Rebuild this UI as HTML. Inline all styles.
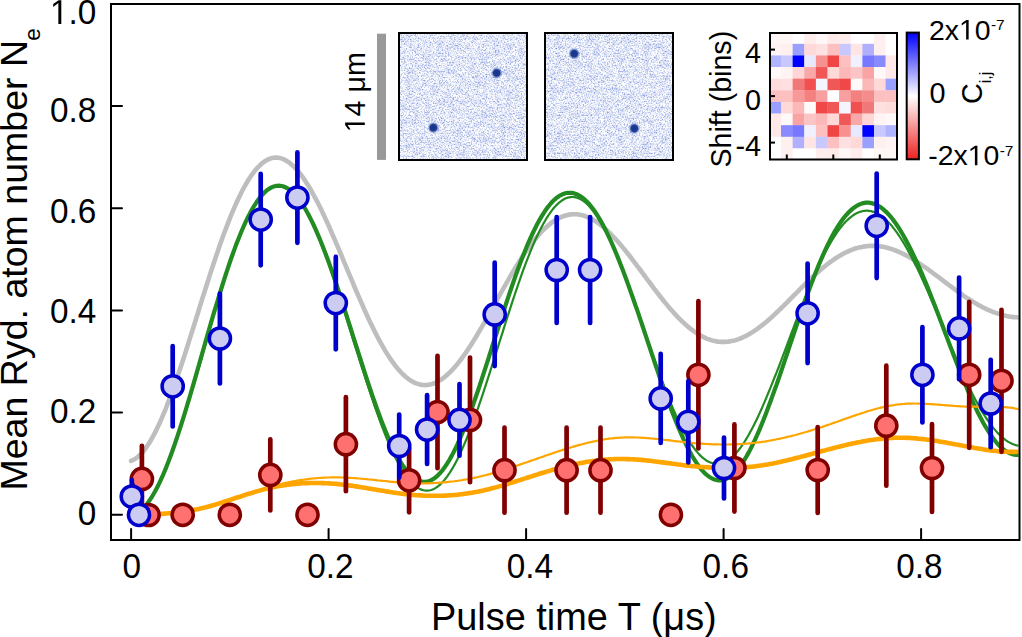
<!DOCTYPE html>
<html><head><meta charset="utf-8"><style>html,body{margin:0;padding:0;background:#fff;overflow:hidden}svg{display:block}</style></head>
<body>
<svg width="1022" height="637" viewBox="0 0 1022 637">
<defs>
<filter id="nz" x="0" y="0" width="100%" height="100%" color-interpolation-filters="sRGB">
<feTurbulence type="fractalNoise" baseFrequency="0.66" numOctaves="2" seed="7" result="t"/>
<feColorMatrix in="t" type="matrix" values="0 0 0 0 0.42  0 0 0 0 0.52  0 0 0 0 0.84  -1.8 0 0 0 1.03" result="c"/>
<feGaussianBlur in="c" stdDeviation="0.6" result="b"/><feTurbulence type="fractalNoise" baseFrequency="0.16" numOctaves="2" seed="11" result="t2"/><feColorMatrix in="t2" type="matrix" values="0 0 0 0 0.42  0 0 0 0 0.52  0 0 0 0 0.84  0.45 0 0 0 -0.17" result="c2"/><feComposite in="b" in2="c2" operator="arithmetic" k2="1" k3="1" result="s"/><feComposite in="s" in2="SourceGraphic" operator="in"/>
</filter>
<clipPath id="pc"><rect x="112" y="5" width="906.5" height="534"/></clipPath>
<radialGradient id="dot"><stop offset="0" stop-color="#173388"/><stop offset="0.55" stop-color="#1d3a92"/><stop offset="0.72" stop-color="#3c5aac" stop-opacity="0.6"/><stop offset="1" stop-color="#6080c0" stop-opacity="0"/></radialGradient>
<linearGradient id="cb" x1="0" y1="0" x2="0" y2="1"><stop offset="0" stop-color="#0000ff"/><stop offset="0.5" stop-color="#ffffff"/><stop offset="1" stop-color="#ee2222"/></linearGradient>
</defs>
<rect width="1022" height="637" fill="#fff"/>
<g clip-path="url(#pc)"><path d="M131.1,460.8 L132.6,460.2 L134.1,459.5 L135.6,458.6 L137.0,457.5 L138.5,456.3 L140.0,454.9 L141.5,453.4 L143.0,451.7 L144.5,449.8 L146.0,447.8 L147.4,445.7 L148.9,443.4 L150.4,441.0 L151.9,438.4 L153.4,435.7 L154.9,432.9 L156.4,429.9 L157.8,426.9 L159.3,423.7 L160.8,420.4 L162.3,416.9 L163.8,413.4 L165.3,409.8 L166.8,406.0 L168.2,402.2 L169.7,398.3 L171.2,394.3 L172.7,390.2 L174.2,386.0 L175.7,381.8 L177.2,377.5 L178.6,373.1 L180.1,368.7 L181.6,364.2 L183.1,359.7 L184.6,355.1 L186.1,350.5 L187.6,345.8 L189.0,341.2 L190.5,336.4 L192.0,331.7 L193.5,327.0 L195.0,322.2 L196.5,317.5 L198.0,312.7 L199.4,307.9 L200.9,303.2 L202.4,298.4 L203.9,293.7 L205.4,289.0 L206.9,284.3 L208.4,279.7 L209.8,275.1 L211.3,270.5 L212.8,266.0 L214.3,261.5 L215.8,257.0 L217.3,252.7 L218.8,248.3 L220.2,244.1 L221.7,239.9 L223.2,235.8 L224.7,231.7 L226.2,227.8 L227.7,223.9 L229.2,220.1 L230.6,216.4 L232.1,212.8 L233.6,209.3 L235.1,205.8 L236.6,202.5 L238.1,199.3 L239.6,196.2 L241.0,193.2 L242.5,190.3 L244.0,187.5 L245.5,184.8 L247.0,182.3 L248.5,179.8 L250.0,177.5 L251.4,175.3 L252.9,173.3 L254.4,171.3 L255.9,169.5 L257.4,167.8 L258.9,166.3 L260.4,164.8 L261.8,163.5 L263.3,162.4 L264.8,161.3 L266.3,160.4 L267.8,159.6 L269.3,159.0 L270.8,158.4 L272.2,158.0 L273.7,157.8 L275.2,157.6 L276.7,157.6 L278.2,157.8 L279.7,158.0 L281.1,158.4 L282.6,158.9 L284.1,159.5 L285.6,160.3 L287.1,161.2 L288.6,162.1 L290.1,163.3 L291.5,164.5 L293.0,165.8 L294.5,167.3 L296.0,168.8 L297.5,170.5 L299.0,172.3 L300.5,174.2 L301.9,176.1 L303.4,178.2 L304.9,180.4 L306.4,182.7 L307.9,185.0 L309.4,187.5 L310.9,190.0 L312.3,192.6 L313.8,195.3 L315.3,198.1 L316.8,200.9 L318.3,203.8 L319.8,206.8 L321.3,209.8 L322.7,212.9 L324.2,216.1 L325.7,219.3 L327.2,222.5 L328.7,225.8 L330.2,229.2 L331.7,232.6 L333.1,236.0 L334.6,239.4 L336.1,242.9 L337.6,246.4 L339.1,249.9 L340.6,253.5 L342.1,257.0 L343.5,260.6 L345.0,264.1 L346.5,267.7 L348.0,271.3 L349.5,274.8 L351.0,278.4 L352.5,281.9 L353.9,285.5 L355.4,289.0 L356.9,292.5 L358.4,295.9 L359.9,299.4 L361.4,302.8 L362.9,306.1 L364.3,309.5 L365.8,312.8 L367.3,316.0 L368.8,319.2 L370.3,322.4 L371.8,325.5 L373.3,328.5 L374.7,331.5 L376.2,334.4 L377.7,337.3 L379.2,340.1 L380.7,342.8 L382.2,345.5 L383.7,348.1 L385.1,350.6 L386.6,353.0 L388.1,355.4 L389.6,357.7 L391.1,359.9 L392.6,362.0 L394.1,364.0 L395.5,366.0 L397.0,367.8 L398.5,369.6 L400.0,371.2 L401.5,372.8 L403.0,374.3 L404.5,375.7 L405.9,377.0 L407.4,378.2 L408.9,379.3 L410.4,380.3 L411.9,381.2 L413.4,382.1 L414.9,382.8 L416.3,383.4 L417.8,383.9 L419.3,384.3 L420.8,384.7 L422.3,384.9 L423.8,385.0 L425.3,385.1 L426.7,385.0 L428.2,384.8 L429.7,384.6 L431.2,384.2 L432.7,383.8 L434.2,383.3 L435.7,382.6 L437.1,381.9 L438.6,381.1 L440.1,380.2 L441.6,379.3 L443.1,378.2 L444.6,377.1 L446.1,375.8 L447.5,374.5 L449.0,373.1 L450.5,371.7 L452.0,370.1 L453.5,368.5 L455.0,366.9 L456.5,365.1 L457.9,363.3 L459.4,361.4 L460.9,359.5 L462.4,357.5 L463.9,355.4 L465.4,353.3 L466.9,351.1 L468.3,348.9 L469.8,346.7 L471.3,344.4 L472.8,342.0 L474.3,339.6 L475.8,337.2 L477.3,334.7 L478.7,332.2 L480.2,329.7 L481.7,327.1 L483.2,324.6 L484.7,322.0 L486.2,319.3 L487.7,316.7 L489.1,314.1 L490.6,311.4 L492.1,308.7 L493.6,306.1 L495.1,303.4 L496.6,300.7 L498.1,298.0 L499.5,295.4 L501.0,292.7 L502.5,290.0 L504.0,287.4 L505.5,284.8 L507.0,282.2 L508.5,279.6 L509.9,277.0 L511.4,274.5 L512.9,272.0 L514.4,269.5 L515.9,267.0 L517.4,264.6 L518.9,262.2 L520.3,259.9 L521.8,257.6 L523.3,255.3 L524.8,253.1 L526.3,250.9 L527.8,248.8 L529.3,246.7 L530.7,244.7 L532.2,242.8 L533.7,240.8 L535.2,239.0 L536.7,237.2 L538.2,235.5 L539.7,233.8 L541.1,232.2 L542.6,230.6 L544.1,229.1 L545.6,227.7 L547.1,226.4 L548.6,225.1 L550.1,223.9 L551.5,222.7 L553.0,221.7 L554.5,220.7 L556.0,219.7 L557.5,218.9 L559.0,218.1 L560.5,217.4 L561.9,216.7 L563.4,216.2 L564.9,215.7 L566.4,215.2 L567.9,214.9 L569.4,214.6 L570.9,214.4 L572.3,214.3 L573.8,214.2 L575.3,214.2 L576.8,214.3 L578.3,214.5 L579.8,214.7 L581.2,215.0 L582.7,215.4 L584.2,215.8 L585.7,216.3 L587.2,216.9 L588.7,217.5 L590.2,218.2 L591.6,219.0 L593.1,219.8 L594.6,220.7 L596.1,221.7 L597.6,222.7 L599.1,223.8 L600.6,224.9 L602.0,226.1 L603.5,227.3 L605.0,228.6 L606.5,229.9 L608.0,231.3 L609.5,232.8 L611.0,234.2 L612.4,235.8 L613.9,237.3 L615.4,238.9 L616.9,240.6 L618.4,242.3 L619.9,244.0 L621.4,245.7 L622.8,247.5 L624.3,249.3 L625.8,251.1 L627.3,253.0 L628.8,254.9 L630.3,256.8 L631.8,258.7 L633.2,260.7 L634.7,262.6 L636.2,264.6 L637.7,266.6 L639.2,268.5 L640.7,270.5 L642.2,272.5 L643.6,274.5 L645.1,276.5 L646.6,278.6 L648.1,280.6 L649.6,282.5 L651.1,284.5 L652.6,286.5 L654.0,288.5 L655.5,290.4 L657.0,292.4 L658.5,294.3 L660.0,296.2 L661.5,298.1 L663.0,300.0 L664.4,301.8 L665.9,303.6 L667.4,305.4 L668.9,307.2 L670.4,308.9 L671.9,310.6 L673.4,312.3 L674.8,313.9 L676.3,315.5 L677.8,317.1 L679.3,318.6 L680.8,320.1 L682.3,321.5 L683.8,322.9 L685.2,324.3 L686.7,325.6 L688.2,326.9 L689.7,328.1 L691.2,329.3 L692.7,330.4 L694.2,331.5 L695.6,332.5 L697.1,333.5 L698.6,334.4 L700.1,335.3 L701.6,336.1 L703.1,336.9 L704.6,337.6 L706.0,338.3 L707.5,338.9 L709.0,339.4 L710.5,339.9 L712.0,340.4 L713.5,340.7 L715.0,341.1 L716.4,341.4 L717.9,341.6 L719.4,341.7 L720.9,341.9 L722.4,341.9 L723.9,341.9 L725.4,341.9 L726.8,341.8 L728.3,341.6 L729.8,341.4 L731.3,341.1 L732.8,340.8 L734.3,340.5 L735.8,340.1 L737.2,339.6 L738.7,339.1 L740.2,338.5 L741.7,337.9 L743.2,337.2 L744.7,336.5 L746.2,335.8 L747.6,335.0 L749.1,334.2 L750.6,333.3 L752.1,332.4 L753.6,331.4 L755.1,330.4 L756.6,329.4 L758.0,328.3 L759.5,327.2 L761.0,326.1 L762.5,324.9 L764.0,323.8 L765.5,322.5 L767.0,321.3 L768.4,320.0 L769.9,318.7 L771.4,317.4 L772.9,316.0 L774.4,314.6 L775.9,313.2 L777.4,311.8 L778.8,310.4 L780.3,309.0 L781.8,307.5 L783.3,306.1 L784.8,304.6 L786.3,303.1 L787.8,301.6 L789.2,300.1 L790.7,298.6 L792.2,297.1 L793.7,295.6 L795.2,294.1 L796.7,292.6 L798.2,291.1 L799.6,289.6 L801.1,288.1 L802.6,286.6 L804.1,285.1 L805.6,283.7 L807.1,282.2 L808.6,280.8 L810.0,279.4 L811.5,278.0 L813.0,276.6 L814.5,275.2 L816.0,273.8 L817.5,272.5 L819.0,271.2 L820.4,269.9 L821.9,268.6 L823.4,267.4 L824.9,266.2 L826.4,265.0 L827.9,263.8 L829.4,262.7 L830.8,261.6 L832.3,260.6 L833.8,259.5 L835.3,258.5 L836.8,257.5 L838.3,256.6 L839.8,255.7 L841.2,254.9 L842.7,254.0 L844.2,253.2 L845.7,252.5 L847.2,251.8 L848.7,251.1 L850.2,250.5 L851.6,249.9 L853.1,249.3 L854.6,248.8 L856.1,248.3 L857.6,247.9 L859.1,247.5 L860.6,247.2 L862.0,246.9 L863.5,246.6 L865.0,246.4 L866.5,246.2 L868.0,246.0 L869.5,245.9 L871.0,245.9 L872.4,245.8 L873.9,245.9 L875.4,245.9 L876.9,246.0 L878.4,246.2 L879.9,246.3 L881.3,246.6 L882.8,246.8 L884.3,247.1 L885.8,247.4 L887.3,247.8 L888.8,248.2 L890.3,248.6 L891.7,249.1 L893.2,249.6 L894.7,250.2 L896.2,250.7 L897.7,251.4 L899.2,252.0 L900.7,252.7 L902.1,253.4 L903.6,254.1 L905.1,254.9 L906.6,255.6 L908.1,256.5 L909.6,257.3 L911.1,258.2 L912.5,259.0 L914.0,259.9 L915.5,260.9 L917.0,261.8 L918.5,262.8 L920.0,263.8 L921.5,264.8 L922.9,265.8 L924.4,266.8 L925.9,267.9 L927.4,268.9 L928.9,270.0 L930.4,271.1 L931.9,272.2 L933.3,273.3 L934.8,274.4 L936.3,275.5 L937.8,276.6 L939.3,277.7 L940.8,278.9 L942.3,280.0 L943.7,281.1 L945.2,282.2 L946.7,283.4 L948.2,284.5 L949.7,285.6 L951.2,286.7 L952.7,287.8 L954.1,288.9 L955.6,290.0 L957.1,291.1 L958.6,292.1 L960.1,293.2 L961.6,294.2 L963.1,295.3 L964.5,296.3 L966.0,297.3 L967.5,298.3 L969.0,299.2 L970.5,300.2 L972.0,301.1 L973.5,302.0 L974.9,302.9 L976.4,303.8 L977.9,304.7 L979.4,305.5 L980.9,306.3 L982.4,307.1 L983.9,307.8 L985.3,308.6 L986.8,309.3 L988.3,309.9 L989.8,310.6 L991.3,311.2 L992.8,311.8 L994.3,312.4 L995.7,312.9 L997.2,313.4 L998.7,313.9 L1000.2,314.4 L1001.7,314.8 L1003.2,315.2 L1004.7,315.5 L1006.1,315.9 L1007.6,316.2 L1009.1,316.5 L1010.6,316.7 L1012.1,316.9 L1013.6,317.1 L1015.1,317.2 L1016.5,317.3 L1018.0,317.4 L1019.5,317.5 L1021.0,317.5" stroke="#bebebe" stroke-width="4.6" fill="none" stroke-linecap="round" stroke-linejoin="round"/><path d="M131.8,514.7 L133.1,514.3 L134.4,513.8 L135.7,513.2 L137.0,512.5 L138.3,511.6 L139.6,510.7 L140.9,509.6 L142.2,508.4 L143.5,507.1 L144.8,505.7 L146.2,504.2 L147.5,502.6 L148.8,500.8 L150.1,499.0 L151.4,497.0 L152.7,495.0 L154.0,492.8 L155.3,490.5 L156.6,488.1 L157.9,485.6 L159.2,483.1 L160.5,480.4 L161.8,477.6 L163.1,474.7 L164.4,471.7 L165.7,468.7 L167.0,465.5 L168.3,462.3 L169.6,459.0 L170.9,455.5 L172.2,452.1 L173.5,448.5 L174.8,444.9 L176.1,441.1 L177.4,437.4 L178.7,433.5 L180.0,429.6 L181.3,425.6 L182.6,421.6 L183.9,417.5 L185.2,413.3 L186.5,409.1 L187.8,404.9 L189.1,400.6 L190.4,396.3 L191.7,391.9 L193.0,387.5 L194.3,383.1 L195.6,378.6 L196.9,374.2 L198.2,369.7 L199.5,365.2 L200.8,360.6 L202.1,356.1 L203.4,351.5 L204.7,347.0 L206.0,342.4 L207.3,337.9 L208.6,333.3 L209.9,328.8 L211.2,324.3 L212.5,319.8 L213.8,315.3 L215.1,310.9 L216.5,306.5 L217.8,302.1 L219.1,297.7 L220.4,293.4 L221.7,289.2 L223.0,285.0 L224.3,280.8 L225.6,276.7 L226.9,272.7 L228.2,268.7 L229.5,264.8 L230.8,260.9 L232.1,257.1 L233.4,253.4 L234.7,249.8 L236.0,246.2 L237.3,242.8 L238.6,239.4 L239.9,236.1 L241.2,232.8 L242.5,229.7 L243.8,226.7 L245.1,223.7 L246.4,220.9 L247.7,218.1 L249.0,215.5 L250.3,213.0 L251.6,210.5 L252.9,208.2 L254.2,206.0 L255.5,203.8 L256.8,201.8 L258.1,199.9 L259.4,198.2 L260.7,196.5 L262.0,194.9 L263.3,193.5 L264.6,192.2 L265.9,191.0 L267.2,189.9 L268.5,188.9 L269.8,188.0 L271.1,187.3 L272.4,186.7 L273.7,186.2 L275.0,185.8 L276.3,185.6 L277.6,185.4 L278.9,185.4 L280.2,185.5 L281.5,185.7 L282.8,186.1 L284.1,186.5 L285.4,187.1 L286.8,187.8 L288.1,188.6 L289.4,189.5 L290.7,190.5 L292.0,191.7 L293.3,192.9 L294.6,194.3 L295.9,195.8 L297.2,197.3 L298.5,199.0 L299.8,200.8 L301.1,202.7 L302.4,204.7 L303.7,206.8 L305.0,209.0 L306.3,211.3 L307.6,213.7 L308.9,216.2 L310.2,218.8 L311.5,221.5 L312.8,224.2 L314.1,227.1 L315.4,230.0 L316.7,233.0 L318.0,236.1 L319.3,239.2 L320.6,242.5 L321.9,245.8 L323.2,249.1 L324.5,252.6 L325.8,256.1 L327.1,259.6 L328.4,263.3 L329.7,266.9 L331.0,270.7 L332.3,274.4 L333.6,278.3 L334.9,282.1 L336.2,286.0 L337.5,290.0 L338.8,294.0 L340.1,298.0 L341.4,302.0 L342.7,306.1 L344.0,310.2 L345.3,314.3 L346.6,318.5 L347.9,322.6 L349.2,326.8 L350.5,330.9 L351.8,335.1 L353.1,339.3 L354.4,343.5 L355.7,347.7 L357.1,351.8 L358.4,356.0 L359.7,360.1 L361.0,364.3 L362.3,368.4 L363.6,372.5 L364.9,376.5 L366.2,380.6 L367.5,384.6 L368.8,388.5 L370.1,392.5 L371.4,396.4 L372.7,400.2 L374.0,404.0 L375.3,407.8 L376.6,411.5 L377.9,415.2 L379.2,418.7 L380.5,422.3 L381.8,425.8 L383.1,429.2 L384.4,432.5 L385.7,435.8 L387.0,439.0 L388.3,442.1 L389.6,445.1 L390.9,448.1 L392.2,451.0 L393.5,453.7 L394.8,456.5 L396.1,459.1 L397.4,461.6 L398.7,464.0 L400.0,466.4 L401.3,468.6 L402.6,470.7 L403.9,472.8 L405.2,474.7 L406.5,476.5 L407.8,478.3 L409.1,479.9 L410.4,481.4 L411.7,482.8 L413.0,484.1 L414.3,485.2 L415.6,486.3 L416.9,487.2 L418.2,488.1 L419.5,488.8 L420.8,489.4 L422.1,489.9 L423.4,490.2 L424.7,490.5 L426.1,490.6 L427.4,490.6 L428.7,490.5 L430.0,490.3 L431.3,490.0 L432.6,489.5 L433.9,488.9 L435.2,488.2 L436.5,487.4 L437.8,486.5 L439.1,485.4 L440.4,484.3 L441.7,483.0 L443.0,481.6 L444.3,480.1 L445.6,478.5 L446.9,476.8 L448.2,475.0 L449.5,473.1 L450.8,471.1 L452.1,468.9 L453.4,466.7 L454.7,464.4 L456.0,461.9 L457.3,459.4 L458.6,456.8 L459.9,454.1 L461.2,451.3 L462.5,448.4 L463.8,445.4 L465.1,442.4 L466.4,439.3 L467.7,436.0 L469.0,432.8 L470.3,429.4 L471.6,426.0 L472.9,422.5 L474.2,419.0 L475.5,415.4 L476.8,411.7 L478.1,408.0 L479.4,404.2 L480.7,400.4 L482.0,396.5 L483.3,392.6 L484.6,388.7 L485.9,384.7 L487.2,380.7 L488.5,376.6 L489.8,372.6 L491.1,368.5 L492.4,364.4 L493.7,360.3 L495.0,356.1 L496.4,352.0 L497.7,347.8 L499.0,343.7 L500.3,339.5 L501.6,335.4 L502.9,331.3 L504.2,327.1 L505.5,323.0 L506.8,318.9 L508.1,314.9 L509.4,310.8 L510.7,306.8 L512.0,302.8 L513.3,298.9 L514.6,295.0 L515.9,291.1 L517.2,287.3 L518.5,283.5 L519.8,279.8 L521.1,276.1 L522.4,272.4 L523.7,268.9 L525.0,265.4 L526.3,261.9 L527.6,258.6 L528.9,255.3 L530.2,252.0 L531.5,248.9 L532.8,245.8 L534.1,242.8 L535.4,239.8 L536.7,237.0 L538.0,234.2 L539.3,231.6 L540.6,229.0 L541.9,226.5 L543.2,224.1 L544.5,221.8 L545.8,219.5 L547.1,217.4 L548.4,215.4 L549.7,213.5 L551.0,211.7 L552.3,209.9 L553.6,208.3 L554.9,206.8 L556.2,205.4 L557.5,204.1 L558.8,202.9 L560.1,201.8 L561.4,200.9 L562.7,200.0 L564.0,199.2 L565.3,198.6 L566.7,198.0 L568.0,197.6 L569.3,197.3 L570.6,197.1 L571.9,197.0 L573.2,197.0 L574.5,197.1 L575.8,197.4 L577.1,197.7 L578.4,198.2 L579.7,198.8 L581.0,199.4 L582.3,200.2 L583.6,201.1 L584.9,202.1 L586.2,203.2 L587.5,204.4 L588.8,205.7 L590.1,207.2 L591.4,208.7 L592.7,210.3 L594.0,212.0 L595.3,213.8 L596.6,215.7 L597.9,217.7 L599.2,219.8 L600.5,221.9 L601.8,224.2 L603.1,226.5 L604.4,228.9 L605.7,231.4 L607.0,234.0 L608.3,236.7 L609.6,239.4 L610.9,242.2 L612.2,245.1 L613.5,248.0 L614.8,251.0 L616.1,254.1 L617.4,257.2 L618.7,260.4 L620.0,263.7 L621.3,267.0 L622.6,270.3 L623.9,273.7 L625.2,277.1 L626.5,280.6 L627.8,284.1 L629.1,287.7 L630.4,291.3 L631.7,294.9 L633.0,298.5 L634.3,302.2 L635.6,305.9 L637.0,309.6 L638.3,313.3 L639.6,317.1 L640.9,320.8 L642.2,324.6 L643.5,328.4 L644.8,332.1 L646.1,335.9 L647.4,339.7 L648.7,343.4 L650.0,347.2 L651.3,350.9 L652.6,354.6 L653.9,358.3 L655.2,362.0 L656.5,365.7 L657.8,369.3 L659.1,372.9 L660.4,376.4 L661.7,380.0 L663.0,383.4 L664.3,386.9 L665.6,390.3 L666.9,393.6 L668.2,396.9 L669.5,400.2 L670.8,403.4 L672.1,406.5 L673.4,409.5 L674.7,412.5 L676.0,415.5 L677.3,418.3 L678.6,421.1 L679.9,423.8 L681.2,426.5 L682.5,429.0 L683.8,431.5 L685.1,433.9 L686.4,436.2 L687.7,438.5 L689.0,440.6 L690.3,442.7 L691.6,444.7 L692.9,446.5 L694.2,448.3 L695.5,450.0 L696.8,451.6 L698.1,453.1 L699.4,454.6 L700.7,455.9 L702.0,457.1 L703.3,458.2 L704.6,459.2 L705.9,460.2 L707.3,461.0 L708.6,461.7 L709.9,462.3 L711.2,462.8 L712.5,463.3 L713.8,463.6 L715.1,463.8 L716.4,463.9 L717.7,463.9 L719.0,463.8 L720.3,463.6 L721.6,463.3 L722.9,462.9 L724.2,462.3 L725.5,461.7 L726.8,461.0 L728.1,460.2 L729.4,459.3 L730.7,458.3 L732.0,457.2 L733.3,456.0 L734.6,454.7 L735.9,453.3 L737.2,451.8 L738.5,450.2 L739.8,448.5 L741.1,446.8 L742.4,444.9 L743.7,443.0 L745.0,441.0 L746.3,438.9 L747.6,436.7 L748.9,434.5 L750.2,432.1 L751.5,429.7 L752.8,427.2 L754.1,424.7 L755.4,422.1 L756.7,419.4 L758.0,416.7 L759.3,413.9 L760.6,411.0 L761.9,408.1 L763.2,405.1 L764.5,402.1 L765.8,399.0 L767.1,395.9 L768.4,392.8 L769.7,389.6 L771.0,386.4 L772.3,383.1 L773.6,379.8 L774.9,376.5 L776.3,373.2 L777.6,369.8 L778.9,366.5 L780.2,363.1 L781.5,359.6 L782.8,356.2 L784.1,352.8 L785.4,349.3 L786.7,345.9 L788.0,342.4 L789.3,338.9 L790.6,335.5 L791.9,332.0 L793.2,328.6 L794.5,325.1 L795.8,321.7 L797.1,318.3 L798.4,314.9 L799.7,311.5 L801.0,308.2 L802.3,304.8 L803.6,301.5 L804.9,298.2 L806.2,295.0 L807.5,291.8 L808.8,288.6 L810.1,285.5 L811.4,282.4 L812.7,279.3 L814.0,276.3 L815.3,273.3 L816.6,270.4 L817.9,267.6 L819.2,264.7 L820.5,262.0 L821.8,259.3 L823.1,256.6 L824.4,254.1 L825.7,251.5 L827.0,249.1 L828.3,246.7 L829.6,244.4 L830.9,242.1 L832.2,239.9 L833.5,237.8 L834.8,235.8 L836.1,233.8 L837.4,231.9 L838.7,230.1 L840.0,228.3 L841.3,226.7 L842.6,225.1 L843.9,223.6 L845.2,222.2 L846.6,220.8 L847.9,219.6 L849.2,218.4 L850.5,217.3 L851.8,216.3 L853.1,215.3 L854.4,214.5 L855.7,213.7 L857.0,213.1 L858.3,212.5 L859.6,212.0 L860.9,211.6 L862.2,211.2 L863.5,211.0 L864.8,210.8 L866.1,210.7 L867.4,210.7 L868.7,210.8 L870.0,211.0 L871.3,211.2 L872.6,211.6 L873.9,212.0 L875.2,212.5 L876.5,213.1 L877.8,213.7 L879.1,214.5 L880.4,215.3 L881.7,216.2 L883.0,217.2 L884.3,218.3 L885.6,219.5 L886.9,220.7 L888.2,222.0 L889.5,223.4 L890.8,224.8 L892.1,226.3 L893.4,228.0 L894.7,229.6 L896.0,231.4 L897.3,233.2 L898.6,235.1 L899.9,237.0 L901.2,239.0 L902.5,241.1 L903.8,243.2 L905.1,245.4 L906.4,247.7 L907.7,250.0 L909.0,252.4 L910.3,254.8 L911.6,257.3 L912.9,259.8 L914.2,262.4 L915.5,265.0 L916.9,267.6 L918.2,270.4 L919.5,273.1 L920.8,275.9 L922.1,278.7 L923.4,281.6 L924.7,284.5 L926.0,287.4 L927.3,290.3 L928.6,293.3 L929.9,296.3 L931.2,299.4 L932.5,302.4 L933.8,305.5 L935.1,308.5 L936.4,311.6 L937.7,314.7 L939.0,317.8 L940.3,321.0 L941.6,324.1 L942.9,327.2 L944.2,330.3 L945.5,333.5 L946.8,336.6 L948.1,339.7 L949.4,342.8 L950.7,345.9 L952.0,349.0 L953.3,352.0 L954.6,355.1 L955.9,358.1 L957.2,361.1 L958.5,364.1 L959.8,367.0 L961.1,370.0 L962.4,372.9 L963.7,375.7 L965.0,378.5 L966.3,381.3 L967.6,384.1 L968.9,386.8 L970.2,389.5 L971.5,392.1 L972.8,394.7 L974.1,397.2 L975.4,399.7 L976.7,402.1 L978.0,404.5 L979.3,406.8 L980.6,409.1 L981.9,411.3 L983.2,413.4 L984.5,415.5 L985.8,417.5 L987.2,419.5 L988.5,421.4 L989.8,423.2 L991.1,425.0 L992.4,426.7 L993.7,428.4 L995.0,429.9 L996.3,431.4 L997.6,432.9 L998.9,434.2 L1000.2,435.5 L1001.5,436.7 L1002.8,437.8 L1004.1,438.9 L1005.4,439.9 L1006.7,440.8 L1008.0,441.7 L1009.3,442.4 L1010.6,443.1 L1011.9,443.7 L1013.2,444.3 L1014.5,444.7 L1015.8,445.1 L1017.1,445.4 L1018.4,445.6 L1019.7,445.8 L1021.0,445.9" stroke="#228b22" stroke-width="2.2" fill="none" stroke-linecap="round" stroke-linejoin="round"/><path d="M131.8,514.6 L133.1,514.4 L134.4,514.0 L135.7,513.5 L137.0,512.8 L138.3,512.1 L139.6,511.2 L140.9,510.2 L142.2,509.0 L143.5,507.8 L144.8,506.4 L146.2,504.9 L147.5,503.3 L148.8,501.5 L150.1,499.6 L151.4,497.6 L152.7,495.5 L154.0,493.3 L155.3,491.0 L156.6,488.6 L157.9,486.0 L159.2,483.4 L160.5,480.6 L161.8,477.7 L163.1,474.8 L164.4,471.7 L165.7,468.6 L167.0,465.3 L168.3,462.0 L169.6,458.6 L170.9,455.1 L172.2,451.5 L173.5,447.8 L174.8,444.1 L176.1,440.3 L177.4,436.4 L178.7,432.4 L180.0,428.4 L181.3,424.3 L182.6,420.2 L183.9,416.0 L185.2,411.8 L186.5,407.5 L187.8,403.2 L189.1,398.9 L190.4,394.5 L191.7,390.0 L193.0,385.6 L194.3,381.1 L195.6,376.6 L196.9,372.1 L198.2,367.5 L199.5,363.0 L200.8,358.4 L202.1,353.9 L203.4,349.3 L204.7,344.7 L206.0,340.2 L207.3,335.6 L208.6,331.1 L209.9,326.6 L211.2,322.1 L212.5,317.6 L213.8,313.2 L215.1,308.8 L216.5,304.4 L217.8,300.1 L219.1,295.8 L220.4,291.5 L221.7,287.3 L223.0,283.2 L224.3,279.1 L225.6,275.0 L226.9,271.1 L228.2,267.1 L229.5,263.3 L230.8,259.5 L232.1,255.8 L233.4,252.2 L234.7,248.6 L236.0,245.1 L237.3,241.7 L238.6,238.4 L239.9,235.2 L241.2,232.0 L242.5,229.0 L243.8,226.0 L245.1,223.1 L246.4,220.4 L247.7,217.7 L249.0,215.1 L250.3,212.6 L251.6,210.3 L252.9,208.0 L254.2,205.8 L255.5,203.8 L256.8,201.8 L258.1,200.0 L259.4,198.2 L260.7,196.6 L262.0,195.1 L263.3,193.7 L264.6,192.4 L265.9,191.2 L267.2,190.1 L268.5,189.2 L269.8,188.4 L271.1,187.6 L272.4,187.0 L273.7,186.6 L275.0,186.2 L276.3,185.9 L277.6,185.8 L278.9,185.7 L280.2,185.8 L281.5,186.0 L282.8,186.3 L284.1,186.8 L285.4,187.3 L286.8,188.0 L288.1,188.7 L289.4,189.6 L290.7,190.6 L292.0,191.7 L293.3,192.9 L294.6,194.2 L295.9,195.7 L297.2,197.2 L298.5,198.8 L299.8,200.6 L301.1,202.4 L302.4,204.3 L303.7,206.4 L305.0,208.5 L306.3,210.7 L307.6,213.0 L308.9,215.5 L310.2,218.0 L311.5,220.6 L312.8,223.2 L314.1,226.0 L315.4,228.8 L316.7,231.8 L318.0,234.8 L319.3,237.9 L320.6,241.0 L321.9,244.2 L323.2,247.5 L324.5,250.9 L325.8,254.3 L327.1,257.8 L328.4,261.3 L329.7,264.9 L331.0,268.6 L332.3,272.3 L333.6,276.1 L334.9,279.9 L336.2,283.7 L337.5,287.6 L338.8,291.5 L340.1,295.5 L341.4,299.5 L342.7,303.5 L344.0,307.5 L345.3,311.6 L346.6,315.7 L347.9,319.8 L349.2,323.9 L350.5,328.0 L351.8,332.1 L353.1,336.3 L354.4,340.4 L355.7,344.5 L357.1,348.6 L358.4,352.8 L359.7,356.9 L361.0,361.0 L362.3,365.0 L363.6,369.1 L364.9,373.1 L366.2,377.1 L367.5,381.1 L368.8,385.0 L370.1,388.9 L371.4,392.7 L372.7,396.6 L374.0,400.3 L375.3,404.0 L376.6,407.7 L377.9,411.3 L379.2,414.8 L380.5,418.3 L381.8,421.7 L383.1,425.0 L384.4,428.3 L385.7,431.5 L387.0,434.6 L388.3,437.7 L389.6,440.6 L390.9,443.5 L392.2,446.3 L393.5,449.0 L394.8,451.6 L396.1,454.1 L397.4,456.5 L398.7,458.8 L400.0,461.0 L401.3,463.1 L402.6,465.1 L403.9,467.0 L405.2,468.8 L406.5,470.5 L407.8,472.1 L409.1,473.5 L410.4,474.9 L411.7,476.1 L413.0,477.2 L414.3,478.2 L415.6,479.1 L416.9,479.8 L418.2,480.5 L419.5,481.0 L420.8,481.4 L422.1,481.7 L423.4,481.8 L424.7,481.8 L426.1,481.7 L427.4,481.5 L428.7,481.2 L430.0,480.7 L431.3,480.1 L432.6,479.4 L433.9,478.6 L435.2,477.7 L436.5,476.6 L437.8,475.4 L439.1,474.1 L440.4,472.7 L441.7,471.2 L443.0,469.6 L444.3,467.8 L445.6,465.9 L446.9,464.0 L448.2,461.9 L449.5,459.7 L450.8,457.4 L452.1,455.1 L453.4,452.6 L454.7,450.0 L456.0,447.3 L457.3,444.6 L458.6,441.7 L459.9,438.8 L461.2,435.7 L462.5,432.6 L463.8,429.5 L465.1,426.2 L466.4,422.9 L467.7,419.5 L469.0,416.0 L470.3,412.5 L471.6,408.9 L472.9,405.3 L474.2,401.6 L475.5,397.8 L476.8,394.0 L478.1,390.2 L479.4,386.3 L480.7,382.4 L482.0,378.4 L483.3,374.4 L484.6,370.4 L485.9,366.4 L487.2,362.3 L488.5,358.3 L489.8,354.2 L491.1,350.1 L492.4,346.0 L493.7,341.9 L495.0,337.8 L496.4,333.7 L497.7,329.6 L499.0,325.5 L500.3,321.5 L501.6,317.4 L502.9,313.4 L504.2,309.4 L505.5,305.4 L506.8,301.5 L508.1,297.6 L509.4,293.7 L510.7,289.8 L512.0,286.0 L513.3,282.3 L514.6,278.6 L515.9,274.9 L517.2,271.3 L518.5,267.8 L519.8,264.3 L521.1,260.8 L522.4,257.5 L523.7,254.2 L525.0,250.9 L526.3,247.7 L527.6,244.6 L528.9,241.6 L530.2,238.7 L531.5,235.8 L532.8,233.0 L534.1,230.3 L535.4,227.7 L536.7,225.1 L538.0,222.7 L539.3,220.3 L540.6,218.1 L541.9,215.9 L543.2,213.8 L544.5,211.8 L545.8,209.9 L547.1,208.1 L548.4,206.4 L549.7,204.8 L551.0,203.2 L552.3,201.8 L553.6,200.5 L554.9,199.3 L556.2,198.2 L557.5,197.2 L558.8,196.3 L560.1,195.5 L561.4,194.8 L562.7,194.2 L564.0,193.7 L565.3,193.3 L566.7,193.0 L568.0,192.8 L569.3,192.8 L570.6,192.8 L571.9,192.9 L573.2,193.1 L574.5,193.5 L575.8,193.9 L577.1,194.4 L578.4,195.1 L579.7,195.8 L581.0,196.7 L582.3,197.6 L583.6,198.6 L584.9,199.8 L586.2,201.0 L587.5,202.3 L588.8,203.7 L590.1,205.2 L591.4,206.9 L592.7,208.6 L594.0,210.3 L595.3,212.2 L596.6,214.2 L597.9,216.2 L599.2,218.4 L600.5,220.6 L601.8,222.9 L603.1,225.3 L604.4,227.7 L605.7,230.3 L607.0,232.9 L608.3,235.6 L609.6,238.4 L610.9,241.2 L612.2,244.1 L613.5,247.1 L614.8,250.1 L616.1,253.2 L617.4,256.4 L618.7,259.6 L620.0,262.9 L621.3,266.2 L622.6,269.6 L623.9,273.0 L625.2,276.5 L626.5,280.0 L627.8,283.6 L629.1,287.2 L630.4,290.9 L631.7,294.5 L633.0,298.3 L634.3,302.0 L635.6,305.8 L637.0,309.6 L638.3,313.4 L639.6,317.3 L640.9,321.1 L642.2,325.0 L643.5,328.9 L644.8,332.8 L646.1,336.7 L647.4,340.6 L648.7,344.5 L650.0,348.4 L651.3,352.3 L652.6,356.2 L653.9,360.1 L655.2,364.0 L656.5,367.8 L657.8,371.7 L659.1,375.5 L660.4,379.2 L661.7,383.0 L663.0,386.7 L664.3,390.4 L665.6,394.1 L666.9,397.7 L668.2,401.2 L669.5,404.8 L670.8,408.2 L672.1,411.7 L673.4,415.0 L674.7,418.3 L676.0,421.6 L677.3,424.8 L678.6,427.9 L679.9,431.0 L681.2,433.9 L682.5,436.8 L683.8,439.7 L685.1,442.4 L686.4,445.1 L687.7,447.7 L689.0,450.2 L690.3,452.6 L691.6,455.0 L692.9,457.2 L694.2,459.4 L695.5,461.4 L696.8,463.4 L698.1,465.2 L699.4,467.0 L700.7,468.6 L702.0,470.2 L703.3,471.6 L704.6,473.0 L705.9,474.2 L707.3,475.3 L708.6,476.3 L709.9,477.2 L711.2,478.0 L712.5,478.7 L713.8,479.3 L715.1,479.7 L716.4,480.0 L717.7,480.3 L719.0,480.4 L720.3,480.4 L721.6,480.2 L722.9,480.0 L724.2,479.6 L725.5,479.2 L726.8,478.6 L728.1,477.9 L729.4,477.1 L730.7,476.2 L732.0,475.1 L733.3,474.0 L734.6,472.7 L735.9,471.4 L737.2,469.9 L738.5,468.3 L739.8,466.6 L741.1,464.8 L742.4,463.0 L743.7,461.0 L745.0,458.9 L746.3,456.7 L747.6,454.4 L748.9,452.1 L750.2,449.6 L751.5,447.0 L752.8,444.4 L754.1,441.7 L755.4,438.9 L756.7,436.0 L758.0,433.1 L759.3,430.1 L760.6,427.0 L761.9,423.8 L763.2,420.6 L764.5,417.3 L765.8,413.9 L767.1,410.5 L768.4,407.1 L769.7,403.6 L771.0,400.0 L772.3,396.4 L773.6,392.8 L774.9,389.1 L776.3,385.4 L777.6,381.7 L778.9,377.9 L780.2,374.1 L781.5,370.3 L782.8,366.4 L784.1,362.6 L785.4,358.7 L786.7,354.9 L788.0,351.0 L789.3,347.1 L790.6,343.2 L791.9,339.3 L793.2,335.5 L794.5,331.6 L795.8,327.8 L797.1,323.9 L798.4,320.1 L799.7,316.3 L801.0,312.6 L802.3,308.8 L803.6,305.1 L804.9,301.4 L806.2,297.8 L807.5,294.2 L808.8,290.6 L810.1,287.1 L811.4,283.6 L812.7,280.2 L814.0,276.8 L815.3,273.5 L816.6,270.2 L817.9,267.0 L819.2,263.9 L820.5,260.8 L821.8,257.8 L823.1,254.8 L824.4,251.9 L825.7,249.1 L827.0,246.4 L828.3,243.7 L829.6,241.1 L830.9,238.5 L832.2,236.1 L833.5,233.7 L834.8,231.4 L836.1,229.2 L837.4,227.1 L838.7,225.1 L840.0,223.1 L841.3,221.2 L842.6,219.4 L843.9,217.7 L845.2,216.1 L846.6,214.6 L847.9,213.2 L849.2,211.8 L850.5,210.6 L851.8,209.4 L853.1,208.3 L854.4,207.4 L855.7,206.5 L857.0,205.7 L858.3,205.0 L859.6,204.4 L860.9,203.9 L862.2,203.4 L863.5,203.1 L864.8,202.9 L866.1,202.7 L867.4,202.7 L868.7,202.7 L870.0,202.8 L871.3,203.1 L872.6,203.4 L873.9,203.8 L875.2,204.3 L876.5,204.8 L877.8,205.5 L879.1,206.3 L880.4,207.1 L881.7,208.0 L883.0,209.1 L884.3,210.2 L885.6,211.4 L886.9,212.6 L888.2,214.0 L889.5,215.4 L890.8,216.9 L892.1,218.5 L893.4,220.2 L894.7,222.0 L896.0,223.8 L897.3,225.7 L898.6,227.7 L899.9,229.7 L901.2,231.8 L902.5,234.0 L903.8,236.3 L905.1,238.6 L906.4,241.0 L907.7,243.4 L909.0,245.9 L910.3,248.5 L911.6,251.1 L912.9,253.8 L914.2,256.6 L915.5,259.4 L916.9,262.2 L918.2,265.1 L919.5,268.1 L920.8,271.0 L922.1,274.1 L923.4,277.2 L924.7,280.3 L926.0,283.4 L927.3,286.6 L928.6,289.8 L929.9,293.1 L931.2,296.4 L932.5,299.7 L933.8,303.0 L935.1,306.3 L936.4,309.7 L937.7,313.1 L939.0,316.5 L940.3,319.9 L941.6,323.3 L942.9,326.8 L944.2,330.2 L945.5,333.7 L946.8,337.1 L948.1,340.5 L949.4,344.0 L950.7,347.4 L952.0,350.8 L953.3,354.2 L954.6,357.6 L955.9,360.9 L957.2,364.3 L958.5,367.6 L959.8,370.9 L961.1,374.1 L962.4,377.4 L963.7,380.6 L965.0,383.7 L966.3,386.8 L967.6,389.9 L968.9,393.0 L970.2,395.9 L971.5,398.9 L972.8,401.8 L974.1,404.6 L975.4,407.4 L976.7,410.1 L978.0,412.7 L979.3,415.3 L980.6,417.8 L981.9,420.3 L983.2,422.7 L984.5,425.0 L985.8,427.2 L987.2,429.4 L988.5,431.5 L989.8,433.5 L991.1,435.4 L992.4,437.3 L993.7,439.0 L995.0,440.7 L996.3,442.3 L997.6,443.8 L998.9,445.2 L1000.2,446.5 L1001.5,447.7 L1002.8,448.8 L1004.1,449.9 L1005.4,450.8 L1006.7,451.7 L1008.0,452.4 L1009.3,453.0 L1010.6,453.6 L1011.9,454.0 L1013.2,454.4 L1014.5,454.7 L1015.8,454.8 L1017.1,454.9 L1018.4,454.8 L1019.7,454.7 L1021.0,454.4" stroke="#228b22" stroke-width="4.2" fill="none" stroke-linecap="round" stroke-linejoin="round"/><path d="M131.1,514.9 L132.9,514.8 L134.7,514.8 L136.5,514.8 L138.2,514.7 L140.0,514.7 L141.8,514.7 L143.6,514.6 L145.4,514.6 L147.2,514.5 L148.9,514.4 L150.7,514.4 L152.5,514.3 L154.3,514.2 L156.1,514.1 L157.9,514.1 L159.6,514.0 L161.4,513.8 L163.2,513.7 L165.0,513.6 L166.8,513.5 L168.6,513.3 L170.3,513.2 L172.1,513.0 L173.9,512.8 L175.7,512.6 L177.5,512.4 L179.3,512.2 L181.0,512.0 L182.8,511.8 L184.6,511.5 L186.4,511.2 L188.2,511.0 L190.0,510.7 L191.7,510.4 L193.5,510.0 L195.3,509.7 L197.1,509.3 L198.9,508.9 L200.7,508.5 L202.4,508.1 L204.2,507.7 L206.0,507.2 L207.8,506.8 L209.6,506.3 L211.4,505.8 L213.1,505.3 L214.9,504.7 L216.7,504.2 L218.5,503.7 L220.3,503.1 L222.1,502.5 L223.8,502.0 L225.6,501.4 L227.4,500.8 L229.2,500.2 L231.0,499.6 L232.8,499.0 L234.5,498.4 L236.3,497.8 L238.1,497.2 L239.9,496.6 L241.7,496.0 L243.5,495.3 L245.2,494.7 L247.0,494.1 L248.8,493.5 L250.6,492.9 L252.4,492.3 L254.2,491.7 L255.9,491.1 L257.7,490.5 L259.5,490.0 L261.3,489.4 L263.1,488.9 L264.9,488.3 L266.6,487.8 L268.4,487.2 L270.2,486.7 L272.0,486.2 L273.8,485.8 L275.6,485.3 L277.3,484.8 L279.1,484.4 L280.9,484.0 L282.7,483.5 L284.5,483.1 L286.3,482.7 L288.0,482.4 L289.8,482.0 L291.6,481.6 L293.4,481.3 L295.2,481.0 L297.0,480.7 L298.7,480.4 L300.5,480.1 L302.3,479.8 L304.1,479.6 L305.9,479.3 L307.7,479.1 L309.4,478.9 L311.2,478.7 L313.0,478.5 L314.8,478.3 L316.6,478.2 L318.4,478.0 L320.1,477.9 L321.9,477.8 L323.7,477.7 L325.5,477.6 L327.3,477.5 L329.1,477.5 L330.8,477.4 L332.6,477.4 L334.4,477.4 L336.2,477.4 L338.0,477.4 L339.8,477.4 L341.5,477.5 L343.3,477.5 L345.1,477.6 L346.9,477.7 L348.7,477.8 L350.5,477.9 L352.2,478.0 L354.0,478.1 L355.8,478.2 L357.6,478.4 L359.4,478.5 L361.2,478.7 L362.9,478.8 L364.7,479.0 L366.5,479.2 L368.3,479.4 L370.1,479.5 L371.9,479.7 L373.6,479.9 L375.4,480.1 L377.2,480.3 L379.0,480.5 L380.8,480.7 L382.6,480.9 L384.3,481.0 L386.1,481.2 L387.9,481.4 L389.7,481.6 L391.5,481.8 L393.3,481.9 L395.0,482.1 L396.8,482.2 L398.6,482.4 L400.4,482.5 L402.2,482.7 L404.0,482.8 L405.7,482.9 L407.5,483.0 L409.3,483.1 L411.1,483.2 L412.9,483.2 L414.7,483.3 L416.4,483.3 L418.2,483.3 L420.0,483.4 L421.8,483.4 L423.6,483.4 L425.4,483.3 L427.1,483.3 L428.9,483.3 L430.7,483.2 L432.5,483.1 L434.3,483.0 L436.1,482.9 L437.8,482.8 L439.6,482.7 L441.4,482.6 L443.2,482.4 L445.0,482.3 L446.8,482.1 L448.5,481.9 L450.3,481.7 L452.1,481.5 L453.9,481.3 L455.7,481.0 L457.5,480.8 L459.2,480.5 L461.0,480.3 L462.8,480.0 L464.6,479.7 L466.4,479.4 L468.2,479.0 L469.9,478.7 L471.7,478.3 L473.5,478.0 L475.3,477.6 L477.1,477.2 L478.9,476.8 L480.6,476.4 L482.4,475.9 L484.2,475.5 L486.0,475.0 L487.8,474.6 L489.6,474.1 L491.3,473.6 L493.1,473.1 L494.9,472.6 L496.7,472.1 L498.5,471.5 L500.3,471.0 L502.0,470.5 L503.8,469.9 L505.6,469.3 L507.4,468.8 L509.2,468.2 L511.0,467.6 L512.7,467.0 L514.5,466.4 L516.3,465.8 L518.1,465.2 L519.9,464.6 L521.7,464.0 L523.4,463.4 L525.2,462.8 L527.0,462.2 L528.8,461.5 L530.6,460.9 L532.4,460.3 L534.1,459.7 L535.9,459.1 L537.7,458.4 L539.5,457.8 L541.3,457.2 L543.1,456.6 L544.8,455.9 L546.6,455.3 L548.4,454.7 L550.2,454.1 L552.0,453.5 L553.8,452.9 L555.5,452.3 L557.3,451.7 L559.1,451.1 L560.9,450.5 L562.7,449.9 L564.5,449.4 L566.2,448.8 L568.0,448.3 L569.8,447.7 L571.6,447.2 L573.4,446.6 L575.2,446.1 L576.9,445.6 L578.7,445.1 L580.5,444.6 L582.3,444.2 L584.1,443.7 L585.9,443.2 L587.6,442.8 L589.4,442.4 L591.2,442.0 L593.0,441.6 L594.8,441.2 L596.6,440.8 L598.3,440.5 L600.1,440.1 L601.9,439.8 L603.7,439.5 L605.5,439.2 L607.3,439.0 L609.0,438.7 L610.8,438.5 L612.6,438.3 L614.4,438.1 L616.2,437.9 L618.0,437.8 L619.7,437.7 L621.5,437.6 L623.3,437.5 L625.1,437.4 L626.9,437.4 L628.7,437.4 L630.4,437.4 L632.2,437.4 L634.0,437.4 L635.8,437.5 L637.6,437.5 L639.4,437.6 L641.1,437.7 L642.9,437.8 L644.7,437.9 L646.5,438.1 L648.3,438.2 L650.1,438.3 L651.8,438.5 L653.6,438.7 L655.4,438.8 L657.2,439.0 L659.0,439.2 L660.8,439.4 L662.5,439.6 L664.3,439.8 L666.1,440.0 L667.9,440.2 L669.7,440.4 L671.5,440.7 L673.2,440.9 L675.0,441.1 L676.8,441.3 L678.6,441.5 L680.4,441.7 L682.2,441.9 L683.9,442.1 L685.7,442.3 L687.5,442.5 L689.3,442.7 L691.1,442.8 L692.9,443.0 L694.6,443.2 L696.4,443.3 L698.2,443.4 L700.0,443.6 L701.8,443.7 L703.6,443.8 L705.3,443.9 L707.1,444.0 L708.9,444.1 L710.7,444.2 L712.5,444.3 L714.3,444.3 L716.0,444.4 L717.8,444.4 L719.6,444.5 L721.4,444.5 L723.2,444.5 L725.0,444.5 L726.7,444.5 L728.5,444.5 L730.3,444.4 L732.1,444.4 L733.9,444.3 L735.7,444.3 L737.4,444.2 L739.2,444.1 L741.0,444.0 L742.8,443.9 L744.6,443.8 L746.4,443.6 L748.1,443.5 L749.9,443.3 L751.7,443.1 L753.5,443.0 L755.3,442.8 L757.1,442.5 L758.8,442.3 L760.6,442.1 L762.4,441.8 L764.2,441.6 L766.0,441.3 L767.8,441.0 L769.5,440.7 L771.3,440.3 L773.1,440.0 L774.9,439.7 L776.7,439.3 L778.5,438.9 L780.2,438.6 L782.0,438.2 L783.8,437.8 L785.6,437.4 L787.4,436.9 L789.2,436.5 L790.9,436.1 L792.7,435.6 L794.5,435.2 L796.3,434.7 L798.1,434.2 L799.9,433.7 L801.6,433.2 L803.4,432.7 L805.2,432.2 L807.0,431.7 L808.8,431.1 L810.6,430.6 L812.3,430.0 L814.1,429.5 L815.9,428.9 L817.7,428.3 L819.5,427.8 L821.3,427.2 L823.0,426.6 L824.8,426.0 L826.6,425.4 L828.4,424.8 L830.2,424.2 L832.0,423.5 L833.7,422.9 L835.5,422.3 L837.3,421.7 L839.1,421.0 L840.9,420.4 L842.7,419.8 L844.4,419.1 L846.2,418.5 L848.0,417.9 L849.8,417.3 L851.6,416.6 L853.4,416.0 L855.1,415.4 L856.9,414.8 L858.7,414.2 L860.5,413.6 L862.3,413.0 L864.1,412.5 L865.8,411.9 L867.6,411.3 L869.4,410.8 L871.2,410.3 L873.0,409.8 L874.8,409.3 L876.5,408.8 L878.3,408.3 L880.1,407.9 L881.9,407.4 L883.7,407.0 L885.5,406.6 L887.2,406.3 L889.0,405.9 L890.8,405.6 L892.6,405.3 L894.4,405.0 L896.2,404.7 L897.9,404.5 L899.7,404.3 L901.5,404.1 L903.3,404.0 L905.1,403.8 L906.9,403.7 L908.6,403.7 L910.4,403.6 L912.2,403.6 L914.0,403.5 L915.8,403.5 L917.6,403.6 L919.3,403.6 L921.1,403.6 L922.9,403.7 L924.7,403.8 L926.5,403.9 L928.3,404.0 L930.0,404.1 L931.8,404.2 L933.6,404.3 L935.4,404.4 L937.2,404.6 L939.0,404.7 L940.7,404.8 L942.5,405.0 L944.3,405.1 L946.1,405.3 L947.9,405.4 L949.7,405.6 L951.4,405.7 L953.2,405.8 L955.0,406.0 L956.8,406.1 L958.6,406.2 L960.4,406.3 L962.1,406.4 L963.9,406.5 L965.7,406.6 L967.5,406.6 L969.3,406.7 L971.1,406.7 L972.8,406.7 L974.6,406.7 L976.4,406.7 L978.2,406.7 L980.0,406.7 L981.8,406.7 L983.5,406.7 L985.3,406.6 L987.1,406.6 L988.9,406.6 L990.7,406.6 L992.5,406.6 L994.2,406.6 L996.0,406.7 L997.8,406.7 L999.6,406.8 L1001.4,406.9 L1003.2,407.0 L1004.9,407.1 L1006.7,407.3 L1008.5,407.5 L1010.3,407.7 L1012.1,407.9 L1013.9,408.2 L1015.6,408.6 L1017.4,408.9 L1019.2,409.4 L1021.0,409.8" stroke="#ffa500" stroke-width="2.2" fill="none" stroke-linecap="round" stroke-linejoin="round"/><path d="M131.1,514.9 L132.9,514.8 L134.7,514.8 L136.5,514.8 L138.2,514.7 L140.0,514.7 L141.8,514.7 L143.6,514.6 L145.4,514.6 L147.2,514.5 L148.9,514.5 L150.7,514.4 L152.5,514.3 L154.3,514.2 L156.1,514.2 L157.9,514.1 L159.6,514.0 L161.4,513.9 L163.2,513.7 L165.0,513.6 L166.8,513.5 L168.6,513.3 L170.3,513.2 L172.1,513.0 L173.9,512.8 L175.7,512.6 L177.5,512.4 L179.3,512.2 L181.0,512.0 L182.8,511.8 L184.6,511.5 L186.4,511.2 L188.2,510.9 L190.0,510.6 L191.7,510.3 L193.5,510.0 L195.3,509.6 L197.1,509.3 L198.9,508.9 L200.7,508.5 L202.4,508.1 L204.2,507.6 L206.0,507.2 L207.8,506.7 L209.6,506.2 L211.4,505.7 L213.1,505.2 L214.9,504.7 L216.7,504.1 L218.5,503.6 L220.3,503.0 L222.1,502.5 L223.8,501.9 L225.6,501.3 L227.4,500.8 L229.2,500.2 L231.0,499.6 L232.8,499.0 L234.5,498.4 L236.3,497.8 L238.1,497.2 L239.9,496.7 L241.7,496.1 L243.5,495.5 L245.2,494.9 L247.0,494.3 L248.8,493.8 L250.6,493.2 L252.4,492.7 L254.2,492.1 L255.9,491.6 L257.7,491.1 L259.5,490.6 L261.3,490.1 L263.1,489.6 L264.9,489.1 L266.6,488.7 L268.4,488.2 L270.2,487.8 L272.0,487.4 L273.8,487.1 L275.6,486.7 L277.3,486.3 L279.1,486.0 L280.9,485.7 L282.7,485.4 L284.5,485.1 L286.3,484.9 L288.0,484.6 L289.8,484.4 L291.6,484.2 L293.4,484.0 L295.2,483.9 L297.0,483.7 L298.7,483.6 L300.5,483.4 L302.3,483.3 L304.1,483.2 L305.9,483.1 L307.7,483.1 L309.4,483.0 L311.2,483.0 L313.0,483.0 L314.8,483.0 L316.6,483.0 L318.4,483.0 L320.1,483.0 L321.9,483.1 L323.7,483.1 L325.5,483.2 L327.3,483.3 L329.1,483.4 L330.8,483.5 L332.6,483.7 L334.4,483.8 L336.2,483.9 L338.0,484.1 L339.8,484.3 L341.5,484.5 L343.3,484.7 L345.1,484.9 L346.9,485.1 L348.7,485.4 L350.5,485.6 L352.2,485.8 L354.0,486.1 L355.8,486.4 L357.6,486.6 L359.4,486.9 L361.2,487.2 L362.9,487.5 L364.7,487.8 L366.5,488.1 L368.3,488.4 L370.1,488.7 L371.9,489.0 L373.6,489.3 L375.4,489.6 L377.2,489.9 L379.0,490.2 L380.8,490.5 L382.6,490.8 L384.3,491.1 L386.1,491.4 L387.9,491.6 L389.7,491.9 L391.5,492.2 L393.3,492.5 L395.0,492.7 L396.8,493.0 L398.6,493.2 L400.4,493.5 L402.2,493.7 L404.0,493.9 L405.7,494.1 L407.5,494.3 L409.3,494.5 L411.1,494.7 L412.9,494.9 L414.7,495.0 L416.4,495.2 L418.2,495.3 L420.0,495.4 L421.8,495.5 L423.6,495.6 L425.4,495.7 L427.1,495.7 L428.9,495.8 L430.7,495.8 L432.5,495.8 L434.3,495.8 L436.1,495.8 L437.8,495.8 L439.6,495.8 L441.4,495.7 L443.2,495.7 L445.0,495.6 L446.8,495.5 L448.5,495.4 L450.3,495.3 L452.1,495.2 L453.9,495.0 L455.7,494.9 L457.5,494.7 L459.2,494.5 L461.0,494.3 L462.8,494.1 L464.6,493.8 L466.4,493.6 L468.2,493.3 L469.9,493.0 L471.7,492.7 L473.5,492.4 L475.3,492.1 L477.1,491.8 L478.9,491.4 L480.6,491.0 L482.4,490.7 L484.2,490.3 L486.0,489.8 L487.8,489.4 L489.6,489.0 L491.3,488.5 L493.1,488.1 L494.9,487.6 L496.7,487.1 L498.5,486.6 L500.3,486.1 L502.0,485.6 L503.8,485.1 L505.6,484.5 L507.4,484.0 L509.2,483.4 L511.0,482.9 L512.7,482.3 L514.5,481.8 L516.3,481.2 L518.1,480.6 L519.9,480.1 L521.7,479.5 L523.4,478.9 L525.2,478.4 L527.0,477.8 L528.8,477.2 L530.6,476.6 L532.4,476.1 L534.1,475.5 L535.9,474.9 L537.7,474.4 L539.5,473.8 L541.3,473.2 L543.1,472.7 L544.8,472.2 L546.6,471.6 L548.4,471.1 L550.2,470.6 L552.0,470.0 L553.8,469.5 L555.5,469.0 L557.3,468.5 L559.1,468.1 L560.9,467.6 L562.7,467.1 L564.5,466.7 L566.2,466.2 L568.0,465.8 L569.8,465.4 L571.6,465.0 L573.4,464.6 L575.2,464.2 L576.9,463.8 L578.7,463.5 L580.5,463.1 L582.3,462.8 L584.1,462.4 L585.9,462.1 L587.6,461.8 L589.4,461.5 L591.2,461.3 L593.0,461.0 L594.8,460.8 L596.6,460.5 L598.3,460.3 L600.1,460.1 L601.9,459.9 L603.7,459.8 L605.5,459.6 L607.3,459.5 L609.0,459.3 L610.8,459.2 L612.6,459.2 L614.4,459.1 L616.2,459.0 L618.0,459.0 L619.7,459.0 L621.5,459.0 L623.3,459.0 L625.1,459.0 L626.9,459.1 L628.7,459.1 L630.4,459.2 L632.2,459.3 L634.0,459.4 L635.8,459.5 L637.6,459.6 L639.4,459.8 L641.1,459.9 L642.9,460.1 L644.7,460.3 L646.5,460.5 L648.3,460.6 L650.1,460.8 L651.8,461.0 L653.6,461.3 L655.4,461.5 L657.2,461.7 L659.0,461.9 L660.8,462.2 L662.5,462.4 L664.3,462.6 L666.1,462.9 L667.9,463.1 L669.7,463.3 L671.5,463.6 L673.2,463.8 L675.0,464.0 L676.8,464.3 L678.6,464.5 L680.4,464.7 L682.2,465.0 L683.9,465.2 L685.7,465.4 L687.5,465.6 L689.3,465.8 L691.1,466.0 L692.9,466.2 L694.6,466.3 L696.4,466.5 L698.2,466.7 L700.0,466.8 L701.8,467.0 L703.6,467.1 L705.3,467.2 L707.1,467.3 L708.9,467.4 L710.7,467.5 L712.5,467.6 L714.3,467.7 L716.0,467.8 L717.8,467.8 L719.6,467.9 L721.4,467.9 L723.2,467.9 L725.0,467.9 L726.7,467.9 L728.5,467.9 L730.3,467.9 L732.1,467.9 L733.9,467.8 L735.7,467.8 L737.4,467.7 L739.2,467.6 L741.0,467.5 L742.8,467.4 L744.6,467.3 L746.4,467.1 L748.1,467.0 L749.9,466.8 L751.7,466.7 L753.5,466.5 L755.3,466.3 L757.1,466.0 L758.8,465.8 L760.6,465.5 L762.4,465.3 L764.2,465.0 L766.0,464.7 L767.8,464.4 L769.5,464.1 L771.3,463.7 L773.1,463.4 L774.9,463.0 L776.7,462.7 L778.5,462.3 L780.2,461.9 L782.0,461.5 L783.8,461.1 L785.6,460.7 L787.4,460.3 L789.2,459.8 L790.9,459.4 L792.7,459.0 L794.5,458.5 L796.3,458.0 L798.1,457.6 L799.9,457.1 L801.6,456.6 L803.4,456.2 L805.2,455.7 L807.0,455.2 L808.8,454.7 L810.6,454.2 L812.3,453.8 L814.1,453.3 L815.9,452.8 L817.7,452.3 L819.5,451.8 L821.3,451.3 L823.0,450.8 L824.8,450.4 L826.6,449.9 L828.4,449.4 L830.2,448.9 L832.0,448.5 L833.7,448.0 L835.5,447.6 L837.3,447.1 L839.1,446.7 L840.9,446.2 L842.7,445.8 L844.4,445.4 L846.2,444.9 L848.0,444.5 L849.8,444.1 L851.6,443.7 L853.4,443.3 L855.1,443.0 L856.9,442.6 L858.7,442.2 L860.5,441.9 L862.3,441.5 L864.1,441.2 L865.8,440.9 L867.6,440.6 L869.4,440.3 L871.2,440.0 L873.0,439.8 L874.8,439.5 L876.5,439.3 L878.3,439.1 L880.1,438.9 L881.9,438.7 L883.7,438.5 L885.5,438.3 L887.2,438.2 L889.0,438.1 L890.8,438.0 L892.6,437.9 L894.4,437.8 L896.2,437.8 L897.9,437.7 L899.7,437.7 L901.5,437.7 L903.3,437.7 L905.1,437.8 L906.9,437.9 L908.6,437.9 L910.4,438.0 L912.2,438.1 L914.0,438.3 L915.8,438.4 L917.6,438.6 L919.3,438.7 L921.1,438.9 L922.9,439.1 L924.7,439.3 L926.5,439.6 L928.3,439.8 L930.0,440.0 L931.8,440.3 L933.6,440.6 L935.4,440.8 L937.2,441.1 L939.0,441.4 L940.7,441.7 L942.5,442.0 L944.3,442.3 L946.1,442.6 L947.9,443.0 L949.7,443.3 L951.4,443.6 L953.2,443.9 L955.0,444.3 L956.8,444.6 L958.6,444.9 L960.4,445.3 L962.1,445.6 L963.9,445.9 L965.7,446.3 L967.5,446.6 L969.3,446.9 L971.1,447.3 L972.8,447.6 L974.6,447.9 L976.4,448.2 L978.2,448.5 L980.0,448.8 L981.8,449.1 L983.5,449.4 L985.3,449.7 L987.1,449.9 L988.9,450.2 L990.7,450.4 L992.5,450.6 L994.2,450.8 L996.0,451.0 L997.8,451.2 L999.6,451.4 L1001.4,451.5 L1003.2,451.6 L1004.9,451.7 L1006.7,451.8 L1008.5,451.9 L1010.3,451.9 L1012.1,451.9 L1013.9,451.9 L1015.6,451.9 L1017.4,451.8 L1019.2,451.7 L1021.0,451.6" stroke="#ffa500" stroke-width="4.6" fill="none" stroke-linecap="round" stroke-linejoin="round"/><g stroke="#800000" stroke-width="4.7" stroke-linecap="round"><line x1="141.9" y1="445.8" x2="141.9" y2="512.0"/><line x1="270.3" y1="439.4" x2="270.3" y2="510.4"/><line x1="345.9" y1="397.2" x2="345.9" y2="491.2"/><line x1="409.1" y1="448.3" x2="409.1" y2="512.3"/><line x1="437.5" y1="355.8" x2="437.5" y2="468.2"/><line x1="470.0" y1="357.6" x2="470.0" y2="482.2"/><line x1="504.5" y1="427.7" x2="504.5" y2="512.7"/><line x1="566.6" y1="427.7" x2="566.6" y2="512.7"/><line x1="600.5" y1="427.7" x2="600.5" y2="512.7"/><line x1="698.4" y1="301.2" x2="698.4" y2="448.4"/><line x1="734.4" y1="424.4" x2="734.4" y2="511.6"/><line x1="817.7" y1="427.0" x2="817.7" y2="513.0"/><line x1="886.3" y1="365.7" x2="886.3" y2="485.7"/><line x1="932.0" y1="424.0" x2="932.0" y2="512.0"/><line x1="969.2" y1="301.8" x2="969.2" y2="447.8"/><line x1="1001.5" y1="309.8" x2="1001.5" y2="451.8"/></g><g stroke="#800000" stroke-width="3.5" fill="#ff7070"><circle cx="141.9" cy="478.9" r="10.6"/><circle cx="148.6" cy="515.0" r="10.6"/><circle cx="182.7" cy="514.8" r="10.6"/><circle cx="229.8" cy="514.8" r="10.6"/><circle cx="270.3" cy="474.9" r="10.6"/><circle cx="307.5" cy="514.8" r="10.6"/><circle cx="345.9" cy="444.2" r="10.6"/><circle cx="409.1" cy="480.3" r="10.6"/><circle cx="437.5" cy="412.0" r="10.6"/><circle cx="470.0" cy="419.9" r="10.6"/><circle cx="504.5" cy="470.2" r="10.6"/><circle cx="566.6" cy="470.2" r="10.6"/><circle cx="600.5" cy="470.2" r="10.6"/><circle cx="670.9" cy="514.8" r="10.6"/><circle cx="698.4" cy="374.8" r="10.6"/><circle cx="734.4" cy="468.0" r="10.6"/><circle cx="817.7" cy="470.0" r="10.6"/><circle cx="886.3" cy="425.7" r="10.6"/><circle cx="932.0" cy="468.0" r="10.6"/><circle cx="969.2" cy="374.8" r="10.6"/><circle cx="1001.5" cy="380.8" r="10.6"/></g><g stroke="#0000cc" stroke-width="4.7" stroke-linecap="round"><line x1="131.8" y1="480.0" x2="131.8" y2="513.0"/><line x1="172.7" y1="346.1" x2="172.7" y2="426.5"/><line x1="219.9" y1="293.5" x2="219.9" y2="383.5"/><line x1="260.7" y1="173.9" x2="260.7" y2="265.3"/><line x1="297.4" y1="152.4" x2="297.4" y2="242.8"/><line x1="335.8" y1="256.9" x2="335.8" y2="349.3"/><line x1="399.2" y1="414.6" x2="399.2" y2="477.4"/><line x1="427.1" y1="395.2" x2="427.1" y2="464.0"/><line x1="459.5" y1="384.1" x2="459.5" y2="455.7"/><line x1="494.7" y1="262.7" x2="494.7" y2="366.1"/><line x1="556.7" y1="217.0" x2="556.7" y2="323.0"/><line x1="590.1" y1="217.0" x2="590.1" y2="323.0"/><line x1="660.7" y1="353.9" x2="660.7" y2="442.9"/><line x1="688.3" y1="381.1" x2="688.3" y2="462.5"/><line x1="724.0" y1="437.6" x2="724.0" y2="498.4"/><line x1="807.6" y1="263.5" x2="807.6" y2="363.1"/><line x1="876.7" y1="173.5" x2="876.7" y2="278.1"/><line x1="922.4" y1="327.2" x2="922.4" y2="422.4"/><line x1="959.1" y1="277.6" x2="959.1" y2="379.2"/><line x1="990.7" y1="359.8" x2="990.7" y2="447.2"/></g><g stroke="#0000cc" stroke-width="3.5" fill="#ccccf2"><circle cx="131.8" cy="496.5" r="10.6"/><circle cx="139.0" cy="514.8" r="10.6"/><circle cx="172.7" cy="386.3" r="10.6"/><circle cx="219.9" cy="338.5" r="10.6"/><circle cx="260.7" cy="219.6" r="10.6"/><circle cx="297.4" cy="197.6" r="10.6"/><circle cx="335.8" cy="303.1" r="10.6"/><circle cx="399.2" cy="446.0" r="10.6"/><circle cx="427.1" cy="429.6" r="10.6"/><circle cx="459.5" cy="419.9" r="10.6"/><circle cx="494.7" cy="314.4" r="10.6"/><circle cx="556.7" cy="270.0" r="10.6"/><circle cx="590.1" cy="270.0" r="10.6"/><circle cx="660.7" cy="398.4" r="10.6"/><circle cx="688.3" cy="421.8" r="10.6"/><circle cx="724.0" cy="468.0" r="10.6"/><circle cx="807.6" cy="313.3" r="10.6"/><circle cx="876.7" cy="225.8" r="10.6"/><circle cx="922.4" cy="374.8" r="10.6"/><circle cx="959.1" cy="328.4" r="10.6"/><circle cx="990.7" cy="403.5" r="10.6"/></g></g>
<rect x="111" y="4" width="908.5" height="536" fill="none" stroke="#000" stroke-width="2"/>
<g stroke="#000" stroke-width="2" stroke-linecap="round"><line x1="131.1" y1="540" x2="131.1" y2="529"/><line x1="328.6" y1="540" x2="328.6" y2="529"/><line x1="526.1" y1="540" x2="526.1" y2="529"/><line x1="723.6" y1="540" x2="723.6" y2="529"/><line x1="921.1" y1="540" x2="921.1" y2="529"/><line x1="111" y1="514.8" x2="122" y2="514.8"/><line x1="111" y1="412.6" x2="122" y2="412.6"/><line x1="111" y1="310.4" x2="122" y2="310.4"/><line x1="111" y1="208.2" x2="122" y2="208.2"/><line x1="111" y1="106.0" x2="122" y2="106.0"/></g>
<g transform="translate(96.30,24.10) scale(0.98,1.025)"><path d="M515 0L515 1237L197 1010L197 1180L530 1409L696 1409L696 0Z" transform="translate(-47.26,0.00) scale(0.01660,-0.01660)"/><text font-family="Liberation Sans, sans-serif" font-size="34" x="-28.36" y="0.00">.0</text></g>
<text font-family="Liberation Sans, sans-serif" font-size="34" text-anchor="end" transform="translate(96.30,121.80) scale(0.98,1.025)">0.8</text>
<text font-family="Liberation Sans, sans-serif" font-size="34" text-anchor="end" transform="translate(96.30,222.70) scale(0.98,1.025)">0.6</text>
<text font-family="Liberation Sans, sans-serif" font-size="34" text-anchor="end" transform="translate(96.30,322.60) scale(0.98,1.025)">0.4</text>
<text font-family="Liberation Sans, sans-serif" font-size="34" text-anchor="end" transform="translate(96.30,423.30) scale(0.98,1.025)">0.2</text>
<text font-family="Liberation Sans, sans-serif" font-size="34" text-anchor="end" transform="translate(96.30,524.90) scale(0.98,1.025)">0</text>
<text font-family="Liberation Sans, sans-serif" font-size="34" text-anchor="middle" transform="translate(131.65,577.60) scale(0.98,1.025)">0</text>
<text font-family="Liberation Sans, sans-serif" font-size="34" text-anchor="middle" transform="translate(330.35,577.60) scale(0.98,1.025)">0.2</text>
<text font-family="Liberation Sans, sans-serif" font-size="34" text-anchor="middle" transform="translate(529.90,577.60) scale(0.98,1.025)">0.4</text>
<text font-family="Liberation Sans, sans-serif" font-size="34" text-anchor="middle" transform="translate(725.75,577.60) scale(0.98,1.025)">0.6</text>
<text font-family="Liberation Sans, sans-serif" font-size="34" text-anchor="middle" transform="translate(919.40,577.60) scale(0.98,1.025)">0.8</text>
<text font-family="Liberation Sans, sans-serif" font-size="37.9" transform="translate(431.00,629.50)">Pulse time T (μs)</text>
<text font-family="Liberation Sans, sans-serif" font-size="37.55" transform="translate(27.20,490.60) rotate(-90)">Mean Ryd. atom number N<tspan font-size="22.5" dx="-0.9" dy="12.3">e</tspan></text>
<rect x="377" y="33.7" width="9" height="126.2" fill="#999999"/>
<g transform="translate(364.80,132.30) rotate(-90)"><path d="M515 0L515 1237L197 1010L197 1180L530 1409L696 1409L696 0Z" transform="translate(0.00,0.00) scale(0.01396,-0.01396)"/><text font-family="Liberation Sans, sans-serif" font-size="28.6" x="15.91" y="0.00">4</text><text font-family="Liberation Sans, sans-serif" font-size="28.6" x="39.76" y="0.00">μm</text></g>
<rect x="399" y="33" width="128" height="127" fill="#ffffff"/><rect x="399" y="33" width="128" height="127" fill="#000" filter="url(#nz)"/><rect x="399" y="33" width="128" height="127" fill="none" stroke="#000" stroke-width="2"/>
<rect x="545" y="33" width="128" height="127" fill="#ffffff"/><rect x="545" y="33" width="128" height="127" fill="#000" filter="url(#nz)"/><rect x="545" y="33" width="128" height="127" fill="none" stroke="#000" stroke-width="2"/>
<circle cx="496.7" cy="73.0" r="6" fill="url(#dot)"/>
<circle cx="433.3" cy="127.7" r="6" fill="url(#dot)"/>
<circle cx="574.2" cy="53.7" r="6" fill="url(#dot)"/>
<circle cx="634.3" cy="128.4" r="6" fill="url(#dot)"/>
<g><rect x="769.40" y="32.20" width="11.92" height="11.92" fill="#fff6f6"/><rect x="781.02" y="32.20" width="11.92" height="11.92" fill="#fff6f6"/><rect x="792.64" y="32.20" width="11.92" height="11.92" fill="#ffffff"/><rect x="804.26" y="32.20" width="11.92" height="11.92" fill="#ffeded"/><rect x="815.88" y="32.20" width="11.92" height="11.92" fill="#fff7f7"/><rect x="827.50" y="32.20" width="11.92" height="11.92" fill="#ffeaea"/><rect x="839.12" y="32.20" width="11.92" height="11.92" fill="#ffeded"/><rect x="850.74" y="32.20" width="11.92" height="11.92" fill="#ffffff"/><rect x="862.36" y="32.20" width="11.92" height="11.92" fill="#ffffff"/><rect x="873.98" y="32.20" width="11.92" height="11.92" fill="#fff0f0"/><rect x="885.60" y="32.20" width="11.92" height="11.92" fill="#ffffff"/><rect x="769.40" y="43.82" width="11.92" height="11.92" fill="#fff3f3"/><rect x="781.02" y="43.82" width="11.92" height="11.92" fill="#fff0f0"/><rect x="792.64" y="43.82" width="11.92" height="11.92" fill="#9aa0ff"/><rect x="804.26" y="43.82" width="11.92" height="11.92" fill="#ffd8d8"/><rect x="815.88" y="43.82" width="11.92" height="11.92" fill="#ffe0e0"/><rect x="827.50" y="43.82" width="11.92" height="11.92" fill="#fcc0c0"/><rect x="839.12" y="43.82" width="11.92" height="11.92" fill="#c8c8ff"/><rect x="850.74" y="43.82" width="11.92" height="11.92" fill="#ffe4e4"/><rect x="862.36" y="43.82" width="11.92" height="11.92" fill="#b0b0ff"/><rect x="873.98" y="43.82" width="11.92" height="11.92" fill="#fff0f0"/><rect x="885.60" y="43.82" width="11.92" height="11.92" fill="#ffffff"/><rect x="769.40" y="55.44" width="11.92" height="11.92" fill="#b0b4ff"/><rect x="781.02" y="55.44" width="11.92" height="11.92" fill="#c8c8ff"/><rect x="792.64" y="55.44" width="11.92" height="11.92" fill="#0000ff"/><rect x="804.26" y="55.44" width="11.92" height="11.92" fill="#e8e8ff"/><rect x="815.88" y="55.44" width="11.92" height="11.92" fill="#f89090"/><rect x="827.50" y="55.44" width="11.92" height="11.92" fill="#f04545"/><rect x="839.12" y="55.44" width="11.92" height="11.92" fill="#fcc0c0"/><rect x="850.74" y="55.44" width="11.92" height="11.92" fill="#f0f0ff"/><rect x="862.36" y="55.44" width="11.92" height="11.92" fill="#7878ff"/><rect x="873.98" y="55.44" width="11.92" height="11.92" fill="#8a8aff"/><rect x="885.60" y="55.44" width="11.92" height="11.92" fill="#ffe8e8"/><rect x="769.40" y="67.06" width="11.92" height="11.92" fill="#fff8f8"/><rect x="781.02" y="67.06" width="11.92" height="11.92" fill="#fff3f3"/><rect x="792.64" y="67.06" width="11.92" height="11.92" fill="#ffd5d5"/><rect x="804.26" y="67.06" width="11.92" height="11.92" fill="#f8a8a8"/><rect x="815.88" y="67.06" width="11.92" height="11.92" fill="#f05858"/><rect x="827.50" y="67.06" width="11.92" height="11.92" fill="#ffd8d8"/><rect x="839.12" y="67.06" width="11.92" height="11.92" fill="#fcb8b8"/><rect x="850.74" y="67.06" width="11.92" height="11.92" fill="#fcc4c4"/><rect x="862.36" y="67.06" width="11.92" height="11.92" fill="#f8a4a4"/><rect x="873.98" y="67.06" width="11.92" height="11.92" fill="#fff8f8"/><rect x="885.60" y="67.06" width="11.92" height="11.92" fill="#ffe8e8"/><rect x="769.40" y="78.68" width="11.92" height="11.92" fill="#ffdcdc"/><rect x="781.02" y="78.68" width="11.92" height="11.92" fill="#ffe0e0"/><rect x="792.64" y="78.68" width="11.92" height="11.92" fill="#f07878"/><rect x="804.26" y="78.68" width="11.92" height="11.92" fill="#f05050"/><rect x="815.88" y="78.68" width="11.92" height="11.92" fill="#f4f6ff"/><rect x="827.50" y="78.68" width="11.92" height="11.92" fill="#f05858"/><rect x="839.12" y="78.68" width="11.92" height="11.92" fill="#f04848"/><rect x="850.74" y="78.68" width="11.92" height="11.92" fill="#fffafa"/><rect x="862.36" y="78.68" width="11.92" height="11.92" fill="#fcb8b8"/><rect x="873.98" y="78.68" width="11.92" height="11.92" fill="#ffd8d8"/><rect x="885.60" y="78.68" width="11.92" height="11.92" fill="#9aa0ff"/><rect x="769.40" y="90.30" width="11.92" height="11.92" fill="#fcc0c0"/><rect x="781.02" y="90.30" width="11.92" height="11.92" fill="#fcc0c0"/><rect x="792.64" y="90.30" width="11.92" height="11.92" fill="#f89898"/><rect x="804.26" y="90.30" width="11.92" height="11.92" fill="#f48080"/><rect x="815.88" y="90.30" width="11.92" height="11.92" fill="#f8a0a0"/><rect x="827.50" y="90.30" width="11.92" height="11.92" fill="#ffffff"/><rect x="839.12" y="90.30" width="11.92" height="11.92" fill="#f8a0a0"/><rect x="850.74" y="90.30" width="11.92" height="11.92" fill="#f48080"/><rect x="862.36" y="90.30" width="11.92" height="11.92" fill="#f48c8c"/><rect x="873.98" y="90.30" width="11.92" height="11.92" fill="#fcc0c0"/><rect x="885.60" y="90.30" width="11.92" height="11.92" fill="#fcc0c0"/><rect x="769.40" y="101.92" width="11.92" height="11.92" fill="#9aa0ff"/><rect x="781.02" y="101.92" width="11.92" height="11.92" fill="#ffd8d8"/><rect x="792.64" y="101.92" width="11.92" height="11.92" fill="#fcb8b8"/><rect x="804.26" y="101.92" width="11.92" height="11.92" fill="#fffafa"/><rect x="815.88" y="101.92" width="11.92" height="11.92" fill="#f04848"/><rect x="827.50" y="101.92" width="11.92" height="11.92" fill="#f05858"/><rect x="839.12" y="101.92" width="11.92" height="11.92" fill="#f4f6ff"/><rect x="850.74" y="101.92" width="11.92" height="11.92" fill="#f05050"/><rect x="862.36" y="101.92" width="11.92" height="11.92" fill="#f07878"/><rect x="873.98" y="101.92" width="11.92" height="11.92" fill="#ffe0e0"/><rect x="885.60" y="101.92" width="11.92" height="11.92" fill="#ffdcdc"/><rect x="769.40" y="113.54" width="11.92" height="11.92" fill="#ffe8e8"/><rect x="781.02" y="113.54" width="11.92" height="11.92" fill="#fff8f8"/><rect x="792.64" y="113.54" width="11.92" height="11.92" fill="#f8a4a4"/><rect x="804.26" y="113.54" width="11.92" height="11.92" fill="#fcc4c4"/><rect x="815.88" y="113.54" width="11.92" height="11.92" fill="#fcb8b8"/><rect x="827.50" y="113.54" width="11.92" height="11.92" fill="#ffd8d8"/><rect x="839.12" y="113.54" width="11.92" height="11.92" fill="#f05858"/><rect x="850.74" y="113.54" width="11.92" height="11.92" fill="#f8a8a8"/><rect x="862.36" y="113.54" width="11.92" height="11.92" fill="#ffd5d5"/><rect x="873.98" y="113.54" width="11.92" height="11.92" fill="#fff3f3"/><rect x="885.60" y="113.54" width="11.92" height="11.92" fill="#fff8f8"/><rect x="769.40" y="125.16" width="11.92" height="11.92" fill="#ffe8e8"/><rect x="781.02" y="125.16" width="11.92" height="11.92" fill="#8a8aff"/><rect x="792.64" y="125.16" width="11.92" height="11.92" fill="#7878ff"/><rect x="804.26" y="125.16" width="11.92" height="11.92" fill="#f0f0ff"/><rect x="815.88" y="125.16" width="11.92" height="11.92" fill="#fcc0c0"/><rect x="827.50" y="125.16" width="11.92" height="11.92" fill="#f04545"/><rect x="839.12" y="125.16" width="11.92" height="11.92" fill="#f89090"/><rect x="850.74" y="125.16" width="11.92" height="11.92" fill="#e8e8ff"/><rect x="862.36" y="125.16" width="11.92" height="11.92" fill="#0000ff"/><rect x="873.98" y="125.16" width="11.92" height="11.92" fill="#c8c8ff"/><rect x="885.60" y="125.16" width="11.92" height="11.92" fill="#b0b4ff"/><rect x="769.40" y="136.78" width="11.92" height="11.92" fill="#ffffff"/><rect x="781.02" y="136.78" width="11.92" height="11.92" fill="#fff0f0"/><rect x="792.64" y="136.78" width="11.92" height="11.92" fill="#b0b0ff"/><rect x="804.26" y="136.78" width="11.92" height="11.92" fill="#ffe4e4"/><rect x="815.88" y="136.78" width="11.92" height="11.92" fill="#c8c8ff"/><rect x="827.50" y="136.78" width="11.92" height="11.92" fill="#fcc0c0"/><rect x="839.12" y="136.78" width="11.92" height="11.92" fill="#ffe0e0"/><rect x="850.74" y="136.78" width="11.92" height="11.92" fill="#ffd8d8"/><rect x="862.36" y="136.78" width="11.92" height="11.92" fill="#9aa0ff"/><rect x="873.98" y="136.78" width="11.92" height="11.92" fill="#fff0f0"/><rect x="885.60" y="136.78" width="11.92" height="11.92" fill="#fff3f3"/><rect x="769.40" y="148.40" width="11.92" height="11.92" fill="#ffffff"/><rect x="781.02" y="148.40" width="11.92" height="11.92" fill="#fff0f0"/><rect x="792.64" y="148.40" width="11.92" height="11.92" fill="#ffffff"/><rect x="804.26" y="148.40" width="11.92" height="11.92" fill="#ffffff"/><rect x="815.88" y="148.40" width="11.92" height="11.92" fill="#ffeded"/><rect x="827.50" y="148.40" width="11.92" height="11.92" fill="#ffeaea"/><rect x="839.12" y="148.40" width="11.92" height="11.92" fill="#fff7f7"/><rect x="850.74" y="148.40" width="11.92" height="11.92" fill="#ffeded"/><rect x="862.36" y="148.40" width="11.92" height="11.92" fill="#ffffff"/><rect x="873.98" y="148.40" width="11.92" height="11.92" fill="#fff6f6"/><rect x="885.60" y="148.40" width="11.92" height="11.92" fill="#fff6f6"/></g>
<rect x="770" y="33" width="127" height="126.5" fill="none" stroke="#000" stroke-width="2"/>
<g stroke="#000" stroke-width="2"><line x1="770" y1="49.6" x2="775" y2="49.6"/><line x1="786.8" y1="159.5" x2="786.8" y2="154.5"/><line x1="770" y1="96.1" x2="775" y2="96.1"/><line x1="833.3" y1="159.5" x2="833.3" y2="154.5"/><line x1="770" y1="142.6" x2="775" y2="142.6"/><line x1="879.8" y1="159.5" x2="879.8" y2="154.5"/></g>
<text font-family="Liberation Sans, sans-serif" font-size="28.8" text-anchor="end" transform="translate(761.00,63.00)">4</text>
<text font-family="Liberation Sans, sans-serif" font-size="28.8" text-anchor="end" transform="translate(761.00,109.50)">0</text>
<text font-family="Liberation Sans, sans-serif" font-size="28.8" text-anchor="end" transform="translate(761.00,155.50)">-4</text>
<text font-family="Liberation Sans, sans-serif" font-size="28.6" transform="translate(731.20,167.50) rotate(-90)">Shift (bins)</text>
<rect x="906.7" y="32.6" width="12.2" height="126.7" fill="url(#cb)" stroke="#000" stroke-width="2"/>
<g transform="translate(929.00,39.60)"><text font-family="Liberation Sans, sans-serif" font-size="28.4" x="0.00" y="0.00">2x</text><path d="M515 0L515 1237L197 1010L197 1180L530 1409L696 1409L696 0Z" transform="translate(29.99,0.00) scale(0.01387,-0.01387)"/><text font-family="Liberation Sans, sans-serif" font-size="28.4" x="45.79" y="0.00">0</text><text font-family="Liberation Sans, sans-serif" font-size="15.5" x="61.88" y="-9.50">-7</text></g>
<text font-family="Liberation Sans, sans-serif" font-size="28.8" transform="translate(929.50,102.50)">0</text>
<g transform="translate(928.30,165.30)"><text font-family="Liberation Sans, sans-serif" font-size="28.4" x="0.00" y="0.00">-2x</text><path d="M515 0L515 1237L197 1010L197 1180L530 1409L696 1409L696 0Z" transform="translate(39.45,0.00) scale(0.01387,-0.01387)"/><text font-family="Liberation Sans, sans-serif" font-size="28.4" x="55.25" y="0.00">0</text><text font-family="Liberation Sans, sans-serif" font-size="15.5" x="71.34" y="-9.50">-7</text></g>
<text font-family="Liberation Sans, sans-serif" font-size="28.8" transform="translate(981.50,104.00) rotate(-90)">C<tspan font-size="16" dx="0" dy="9.5">i,j</tspan></text>
</svg>
</body></html>
